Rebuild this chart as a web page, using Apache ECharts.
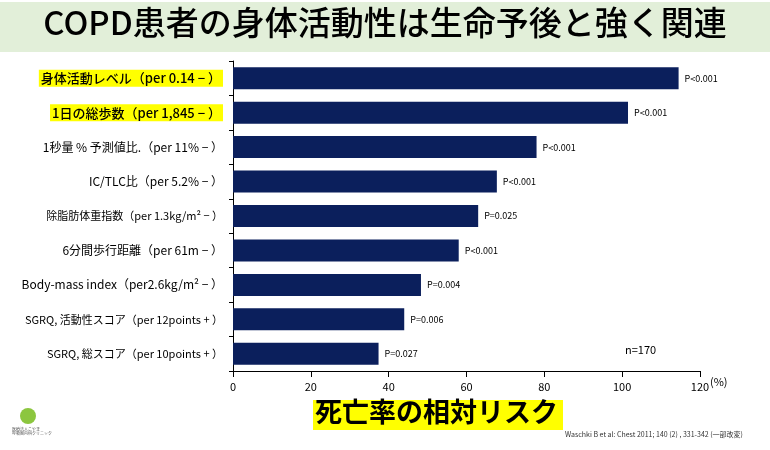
<!DOCTYPE html><html><head><meta charset="utf-8"><script src="https://cdn.jsdelivr.net/npm/echarts@6/dist/echarts.min.js"></script>
<style>body{margin:0}#c{width:770px;height:450px}</style></head><body><div id="c"></div><script>
const categories=['身体活動レベル（per 0.14 − ）','1日の総歩数（per 1,845 − ）','1秒量 % 予測値比.（per 11% − ）','IC/TLC比（per 5.2% − ）','除脂肪体重指数（per 1.3kg/m² − ）','6分間歩行距離（per 61m − ）','Body-mass index（per2.6kg/m² − ）','SGRQ, 活動性スコア（per 12points + ）','SGRQ, 総スコア（per 10points + ）'];
const values=[114.5,101.5,78,67.8,63,58,48.3,44,37.4];
const pLabels=['P<0.001','P<0.001','P<0.001','P<0.001','P=0.025','P<0.001','P=0.004','P=0.006','P=0.027'];
const xTicks=[0,20,40,60,80,100,120];
const F='"Noto Sans CJK JP",sans-serif';
const ch=echarts.init(document.getElementById('c'));
ch.setOption({
 animation:false,
 graphic:[
  {type:'rect',shape:{x:0,y:2,width:770,height:50},style:{fill:'#e2efd9'}},
  {type:'text',left:'center',top:6,style:{text:'COPD患者の身体活動性は生命予後と強く関連',font:'500 33px '+F,fill:'#000'}},
  {type:'rect',shape:{x:313,y:400,width:250,height:30},style:{fill:'#ffff00'}},
  {type:'text',left:315,top:398,style:{text:'死亡率の相対リスク',font:'bold 27px '+F,fill:'#000'}},
  {type:'text',left:565,top:431,style:{text:'Waschki B et al: Chest 2011; 140 (2) , 331-342 (一部改変)',font:'7px '+F,fill:'#333'}},
  {type:'text',left:625,top:344,style:{text:'n=170',font:'11px '+F,fill:'#000'}},
  {type:'text',left:710,top:376,style:{text:'(%)',font:'11px '+F,fill:'#000'}},
  {type:'circle',shape:{cx:28,cy:416,r:8},style:{fill:'#8cc63f'}},
  {type:'text',left:12,top:427,style:{text:'医療法人こやま\n呼吸器内科クリニック',font:'4px '+F,fill:'#555'}}
 ],
 grid:{left:233,right:70,top:61,bottom:79},
 xAxis:{type:'value',min:0,max:120,interval:20,axisLine:{show:true,lineStyle:{color:'#000'}},axisTick:{show:true,inside:false,length:6,lineStyle:{color:'#000'}},splitLine:{show:false},axisLabel:{color:'#000',fontSize:11,margin:10,fontFamily:F}},
 yAxis:{type:'category',inverse:true,data:categories,axisLine:{lineStyle:{color:'#000'}},axisTick:{show:true,length:4,lineStyle:{color:'#000'}},
  axisLabel:{margin:10,fontFamily:F,formatter:(v,i)=>i<2?'{h|'+v+'}':(i==4||i>=7?'{s|'+v+'}':'{n|'+v+'}'),
   rich:{h:{backgroundColor:'#ffff00',fontSize:13,color:'#000',fontWeight:500,padding:[2,2],fontFamily:F},n:{fontSize:12,color:'#000',fontFamily:F},s:{fontSize:11,color:'#000',fontFamily:F}}}},
 series:[{type:'bar',data:values,barWidth:22,itemStyle:{color:'#0b1f5c'},
  label:{show:true,position:'right',distance:6,fontSize:9,color:'#000',fontFamily:F,formatter:p=>pLabels[p.dataIndex]}}]
});
</script></body></html>
